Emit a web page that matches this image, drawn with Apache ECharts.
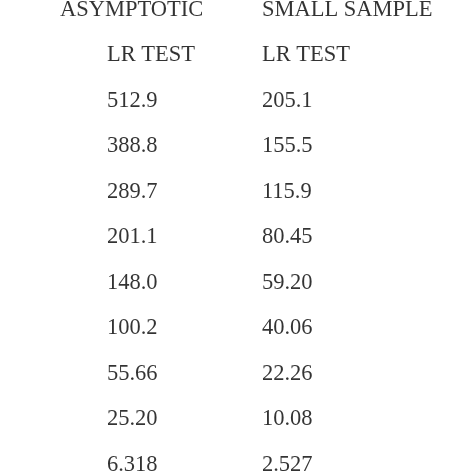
<!DOCTYPE html>
<html>
<head>
<meta charset="utf-8">
<script src="https://cdn.jsdelivr.net/npm/echarts@6/dist/echarts.min.js"></script>
<style>html,body{margin:0;padding:0;background:#fff}#main{width:474px;height:474px}</style>
</head>
<body>
<div id="main"></div>
<script>
// 表头
const headers = ['ASYMPTOTIC', 'SMALL SAMPLE']
const subHeaders = ['LR TEST', 'LR TEST']
// 两列数值（保持原始小数位）
const asymptotic = ['512.9', '388.8', '289.7', '201.1', '148.0', '100.2', '55.66', '25.20', '6.318']
const smallSample = ['205.1', '155.5', '115.9', '80.45', '59.20', '40.06', '22.26', '10.08', '2.527']

const cells = []
headers.forEach((t, i) => cells.push({ value: [i, 0, t], label: { offset: [i === 0 ? -47 : 0, 0] } }))
subHeaders.forEach((t, i) => cells.push({ value: [i, 1, t] }))
asymptotic.forEach((t, r) => cells.push({ value: [0, r + 2, t] }))
smallSample.forEach((t, r) => cells.push({ value: [1, r + 2, t] }))

const myChart = echarts.init(document.querySelector('#main'))
const option = {
  animation: false,
  grid: { left: 0, right: 0, top: 0, bottom: 0 },
  xAxis: { type: 'value', min: -0.69, max: 2.368, show: false },
  yAxis: { type: 'value', min: -0.22, max: 10.198, inverse: true, show: false },
  series: [{
    type: 'scatter',
    symbolSize: 0,
    data: cells,
    label: {
      show: true,
      position: 'inside',
      align: 'left',
      verticalAlign: 'middle',
      color: '#000',
      fontFamily: 'Liberation Serif',
      fontSize: 22.5,
      formatter: p => p.value[2]
    }
  }]
}
myChart.setOption(option)
</script>
</body>
</html>
